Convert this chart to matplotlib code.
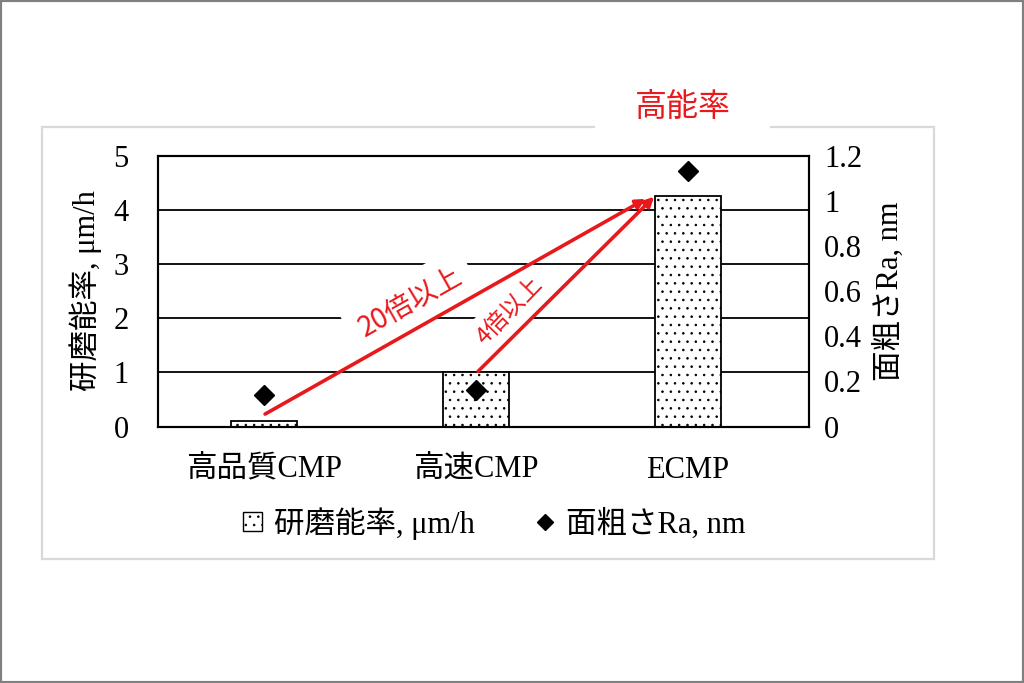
import matplotlib
matplotlib.use("Agg")
import matplotlib.pyplot as plt
from matplotlib.patches import Rectangle
from matplotlib.lines import Line2D
from matplotlib.patches import Patch

plt.rcParams['font.family'] = ['Liberation Serif', 'Noto Sans CJK JP']
plt.rcParams['hatch.linewidth'] = 0.6
plt.rcParams['hatch.color'] = '#555555'

categories = ['高品質CMP', '高速CMP', 'ECMP']
removal_rate = [0.1, 1.0, 4.25]      # 研磨能率, μm/h
roughness = [0.14, 0.16, 1.13]       # 面粗さRa, nm

left_ticks = [0, 1, 2, 3, 4, 5]
right_ticks = [0, 0.2, 0.4, 0.6, 0.8, 1, 1.2]
right_ticklabels = ['0', '0.2', '0.4', '0.6', '0.8', '1', '1.2']

# arrows (start, end) in data units of the left axis
arrow_20x = [(0.005, 0.23), (1.80, 4.20)]
arrow_4x = [(1.01, 1.02), (1.84, 4.24)]

red = '#e8191c'
sans = ['Noto Sans CJK JP', 'DejaVu Sans']
fs = 22

fig = plt.figure(figsize=(10.24, 6.83), dpi=100)
fig.patch.set_facecolor('white')

# outer grey border and light inner frame
fig.patches.append(Rectangle((0, 0), 1, 1, transform=fig.transFigure,
                             fill=False, ec='#808080', lw=3, zorder=0))
fig.patches.append(Rectangle((0.041, 0.1816), 0.871, 0.6325, transform=fig.transFigure,
                             fill=False, ec='#d9d9d9', lw=1.6, zorder=0))
fig.patches.append(Rectangle((595 / 1024, 0.806), 175 / 1024, 0.012, transform=fig.transFigure,
                             fc='white', ec='none', zorder=1))

ax = fig.add_axes([0.1543, 0.3755, 0.6357, 0.3968])
x = list(range(len(categories)))
bars = ax.bar(x, removal_rate, width=0.315, color='white', edgecolor='black',
              linewidth=1.3, hatch='..', zorder=2)
ax.set_xlim(-0.5, 2.57)
ax.set_ylim(0, 5)
ax.set_yticks(left_ticks)
ax.set_xticks(x)
ax.set_xticklabels(categories)
ax.yaxis.grid(True, color='black', lw=1.3)
ax.set_axisbelow(True)
ax.tick_params(axis='both', length=0, labelsize=fs)
ax.tick_params(axis='y', pad=21)
ax.tick_params(axis='x', pad=21)
for s in ax.spines.values():
    s.set_linewidth(1.5)
ax.set_ylabel('研磨能率, μm/h', fontsize=fs, labelpad=8)

ax2 = ax.twinx()
ax2.plot(x, roughness, linestyle='none', marker='D', markersize=10,
         color='black', zorder=3)
ax2.set_ylim(0, 1.2)
ax2.set_yticks(right_ticks)
ax2.set_yticklabels(right_ticklabels)
ax2.tick_params(axis='y', length=0, labelsize=fs, pad=11)
for s in ax2.spines.values():
    s.set_linewidth(1.5)
ax2.set_ylabel('面粗さRa, nm', fontsize=fs, rotation=90, labelpad=8)

# annotations drawn on top axis
for start, end in (arrow_20x, arrow_4x):
    ax2.annotate('', xy=end, xytext=start, xycoords=ax.transData, textcoords=ax.transData,
                 arrowprops=dict(arrowstyle='-|>', color=red, lw=2.6,
                                 mutation_scale=14, shrinkA=0, shrinkB=0), zorder=6)

ax.text(0.69, 2.30, '20倍以上', color=red, fontsize=20, family=sans, rotation=29.5,
        ha='center', va='center', rotation_mode='anchor', zorder=5,
        bbox=dict(boxstyle='square,pad=0.4', fc='white', ec='none'))
ax.text(1.156, 2.13, '4倍以上', color=red, fontsize=17, family=sans, rotation=46,
        ha='center', va='center', rotation_mode='anchor', zorder=5,
        bbox=dict(boxstyle='square,pad=0.35', fc='white', ec='none'))

fig.text(0.667, 0.843, '高能率', color=red, fontsize=23, family=sans,
         ha='center', va='center')

handles = [Patch(facecolor='white', edgecolor='black', hatch='..', lw=1.0),
           Line2D([], [], linestyle='none', marker='D', markersize=8, color='black')]
fig.legend(handles, ['研磨能率, μm/h', '面粗さRa, nm'], loc='center',
           bbox_to_anchor=(0.483, 0.234), ncol=2, frameon=False, fontsize=fs,
           handlelength=0.6, handleheight=0.6, handletextpad=0.4, columnspacing=2.0)

fig.savefig('out.png', dpi=100, facecolor='white')
